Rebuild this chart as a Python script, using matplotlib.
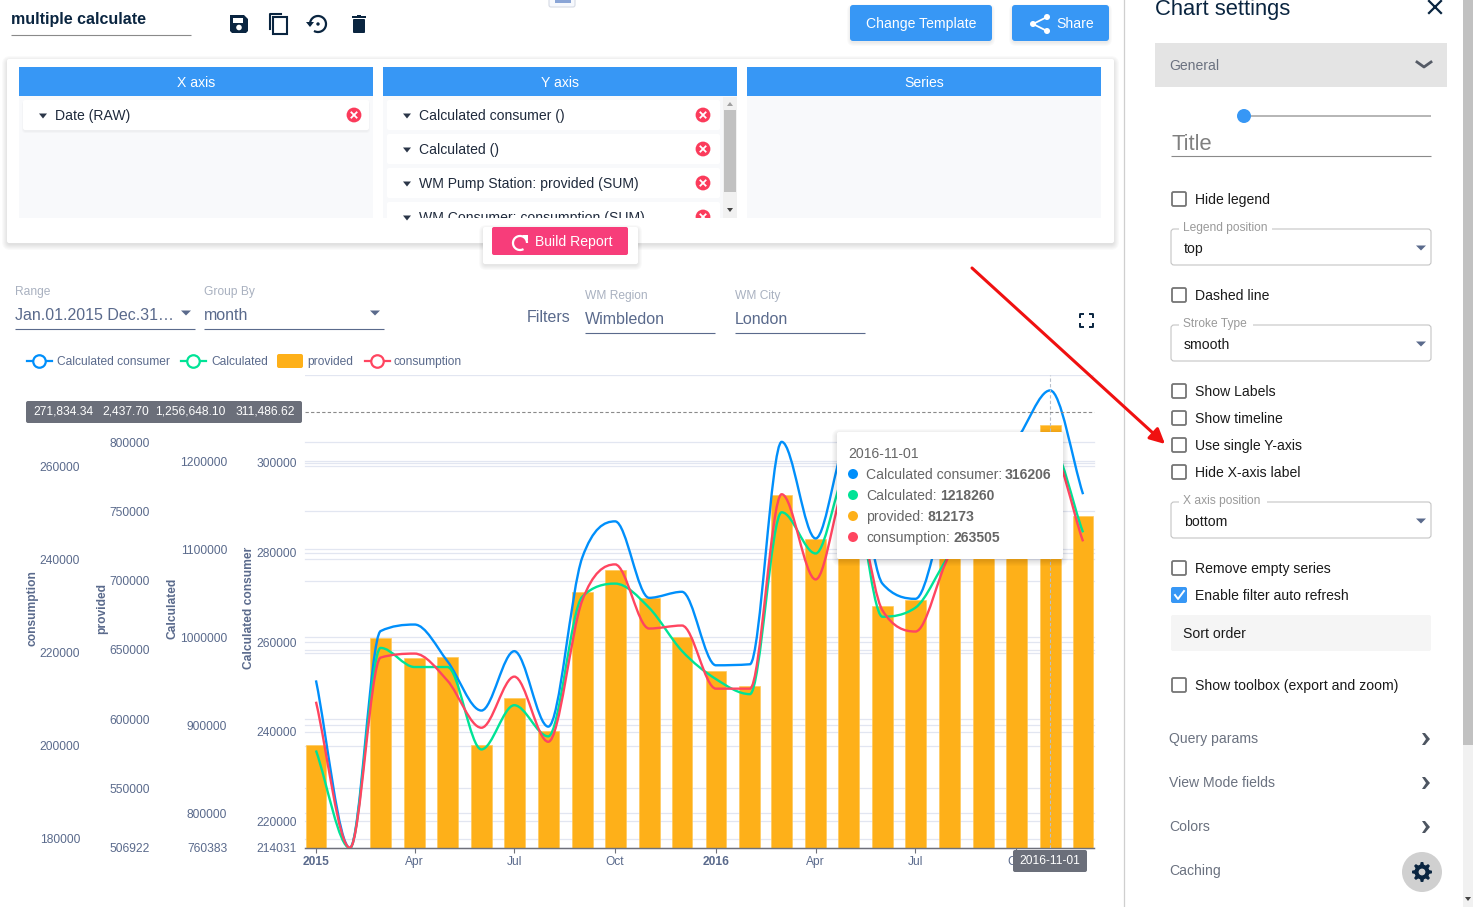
import matplotlib
matplotlib.use('Agg')
import matplotlib.pyplot as plt
import matplotlib.patches as mp
import matplotlib.dates as mdates
from matplotlib.path import Path
import numpy as np
import pandas as pd

plt.rcParams['font.family'] = ['Liberation Sans', 'DejaVu Sans']

dates = pd.date_range('2015-01-01', periods=24, freq='MS')

calculated_consumer = [251460, 214031, 262470, 263930, 255730, 244720, 257980, 241130,
                       278880, 286970, 269890, 271240, 254830, 255060, 304720, 283150,
                       305170, 273040, 269670, 291690, 298430, 305170, 316206, 293030]
calculated = [871220, 760383, 987660, 965970, 965970, 872360, 922590, 887200,
              1045880, 1060720, 1033330, 984240, 952270, 935150, 1141780, 1094970,
              1189730, 1023050, 1033330, 1092690, 1132650, 1166890, 1218260, 1118950]
provided = [581170, 506922, 658340, 644210, 644930, 581170, 615220, 591310,
            692030, 707250, 687690, 659430, 634790, 623920, 761600, 729710,
            779710, 681890, 686240, 728990, 743480, 757970, 812173, 746380]
consumption = [209460, 178100, 218925, 219786, 213980, 203872, 214840, 200860,
               231183, 238925, 225162, 225807, 212259, 212259, 253979, 235700,
               256989, 229033, 224517, 240861, 248387, 254839, 263505, 243871]

cc_ticks = [214031, 220000, 240000, 260000, 280000, 300000]
calc_ticks = [760383, 800000, 900000, 1000000, 1100000, 1200000]
prov_ticks = [506922, 550000, 600000, 650000, 700000, 750000, 800000]
cons_ticks = [180000, 200000, 220000, 240000, 260000]

BLUE = '#008ffb'
GREEN = '#00e396'
ORANGE = '#feb019'
RED = '#ff4560'
LABEL = '#5a6a8c'
NAVY = '#0a2540'
BTN = '#3797f5'
GRID = '#e2e6f1'


def smooth_line(ax, x, y, color):
    # monotone bezier through the monthly values, like the "smooth" stroke
    x = np.asarray(x, dtype=float)
    y = np.asarray(y, dtype=float)
    dx = np.diff(x)
    s = np.diff(y) / dx
    m = np.zeros(len(y))
    for i in range(1, len(y) - 1):
        if s[i - 1] * s[i] > 0:
            mid = (s[i - 1] + s[i]) / 2
            m[i] = np.sign(mid) * min(abs(mid), 2.5 * abs(s[i - 1]), 2.5 * abs(s[i]))
    m[0] = s[0]
    m[-1] = s[-1]
    verts = [(x[0], y[0])]
    codes = [Path.MOVETO]
    for i in range(len(dx)):
        verts.append((x[i] + dx[i] / 3, y[i] + m[i] * dx[i] / 3))
        verts.append((x[i + 1] - dx[i] / 3, y[i + 1] - m[i + 1] * dx[i] / 3))
        verts.append((x[i + 1], y[i + 1]))
        codes += [Path.CURVE4] * 3
    ax.add_patch(mp.PathPatch(Path(verts, codes), fc='none', ec=color, lw=1.7))


fig = plt.figure(figsize=(14.73, 9.07), dpi=100, facecolor='white')

# chart area is 305..1094 x 375..848 in pixels
pos = [305 / 1473, 1 - 848 / 907, 789 / 1473, 473 / 907]
ax_prov = fig.add_axes(pos, zorder=1)
ax_cons = ax_prov.twinx()
ax_calc = ax_prov.twinx()
ax_cc = ax_prov.twinx()

xnum = mdates.date2num(dates)
ax_prov.set_xlim(xnum[0] - 10, xnum[0] + 710)
ax_prov.set_ylim(506922, 848370)
ax_cons.set_ylim(178065, 279570)
ax_calc.set_ylim(760383, 1297700)
ax_cc.set_ylim(214031, 319650)

for a, ticks, pad, name, lab_x in [
        (ax_prov, prov_ticks, 111.6, 'provided', 101),
        (ax_cons, cons_ticks, 162, 'consumption', 31),
        (ax_calc, calc_ticks, 56, 'Calculated', 171),
        (ax_cc, cc_ticks, 5.8, 'Calculated consumer', 248)]:
    a.yaxis.tick_left()
    a.set_yticks(ticks)
    a.set_yticklabels([str(t) for t in ticks])
    a.tick_params(axis='y', length=0, pad=pad, labelsize=8.64, labelcolor=LABEL)
    a.set_ylabel(name, fontsize=8.64, fontweight='bold', color=LABEL)
    a.yaxis.set_label_position('left')
    a.yaxis.set_label_coords((lab_x + 7.5 - 305) / 789, 0.507)
    a.patch.set_visible(False)
    for sp in a.spines.values():
        sp.set_visible(False)
    # all grid lines sit under the bars so they go on the provided axes
    for t in ticks:
        ax_prov.plot([0, 1], [t, t], transform=a.get_yaxis_transform(), color=GRID,
                     lw=0.9, zorder=0, clip_on=False, scaley=False)
ax_prov.plot([0, 1], [1, 1], transform=ax_prov.transAxes, color=GRID, lw=0.9, zorder=0)

ax_prov.bar(xnum, provided, width=19, color=ORANGE, edgecolor='#ffc95e', linewidth=0.5, zorder=2)
smooth_line(ax_cc, xnum, calculated_consumer, BLUE)
smooth_line(ax_calc, xnum, calculated, GREEN)
smooth_line(ax_cons, xnum, consumption, RED)
ax_cc.set_zorder(2)
ax_calc.set_zorder(3)
ax_cons.set_zorder(4)

hover = xnum[22]
ax_cons.axvline(hover, color='#b8bfca', lw=0.8, ls=(0, (3, 2)), zorder=5)

tick_idx = [0, 3, 6, 9, 12, 15, 18, 21]
ax_prov.set_xticks(xnum[tick_idx])
ax_prov.set_xticklabels(['2015', 'Apr', 'Jul', 'Oct', '2016', 'Apr', 'Jul', 'Oct'])
ax_prov.tick_params(axis='x', length=3.5, width=0.8, color='#6e7079', labelsize=8.64,
                    labelcolor=LABEL, pad=2.2)
for i in [0, 4]:
    ax_prov.get_xticklabels()[i].set_fontweight('bold')
ax_prov.spines['bottom'].set_visible(True)
ax_prov.spines['bottom'].set_color('#6e7079')
ax_prov.spines['bottom'].set_linewidth(1)
ax_prov.spines['bottom'].set_zorder(6)

# everything else is page furniture, drawn in pixel coordinates
ui = fig.add_axes([0, 0, 1, 1], zorder=10)
ui.set_xlim(0, 1473)
ui.set_ylim(907, 0)
ui.axis('off')
ui.patch.set_visible(False)


def T(x, y, s, px=14, color='#222222', weight='normal', ha='left', **kw):
    return ui.text(x, y + 1, s, fontsize=px * 0.72, color=color, fontweight=weight, ha=ha,
                   va='center', **kw)


def box(x0, y0, x1, y1, fc, r=0, ec='none', lw=0, shadow=0, z=2):
    if shadow:
        for k in range(shadow, 0, -1):
            ui.add_patch(mp.FancyBboxPatch((x0 - k + 1, y0 - k + 3), x1 - x0 + 2 * k - 2, y1 - y0 + 2 * k - 2,
                                           boxstyle='round,pad=0,rounding_size=%g' % (r + k),
                                           fc='black', ec='none', alpha=0.018, zorder=z))
    if r:
        p = mp.FancyBboxPatch((x0, y0), x1 - x0, y1 - y0, boxstyle='round,pad=0,rounding_size=%g' % r,
                              fc=fc, ec=ec, lw=lw, zorder=z)
    else:
        p = mp.Rectangle((x0, y0), x1 - x0, y1 - y0, fc=fc, ec=ec, lw=lw, zorder=z)
    ui.add_patch(p)
    return p


def hline(x0, x1, y, color, lw=0.8, **kw):
    ui.plot([x0, x1], [y, y], color=color, lw=lw, solid_capstyle='butt', **kw)


def caret(x, y, w=5, color=LABEL):
    ui.add_patch(mp.Polygon([(x - w, y - 2.5), (x + w, y - 2.5), (x, y + 2.5)], fc=color, ec='none', zorder=4))


def chevron(x, y):
    ui.add_patch(mp.Polygon([(x - 4, y - 6), (x - 1, y - 6), (x + 4, y), (x - 1, y + 6), (x - 4, y + 6), (x, y)],
                            fc='#4d5561', ec='none', zorder=4))


def close_dot(x, y, clip=None):
    c = mp.Circle((x, y), 7.4, fc='#fb3b5b', ec='none', zorder=4)
    ui.add_patch(c)
    l = ui.plot([x - 2.6, x + 2.6, np.nan, x - 2.6, x + 2.6], [y - 2.6, y + 2.6, np.nan, y + 2.6, y - 2.6],
                color='white', lw=1.3, zorder=5)[0]
    if clip is not None:
        c.set_clip_path(clip)
        l.set_clip_path(clip)


# top bar
T(11, 18.5, 'multiple calculate', 16, NAVY, 'bold')
hline(11, 191, 35, '#8a8a8a')
ui.add_patch(mp.Polygon([(230, 15), (244, 15), (248, 19), (248, 31), (246, 33), (232, 33), (230, 31)],
                        fc=NAVY, ec='none', zorder=3))
box(233, 18, 243, 22.5, 'white', z=4)
ui.add_patch(mp.Circle((239, 27.5), 2.8, fc='white', ec='none', zorder=4))
ui.add_patch(mp.Rectangle((273, 17), 14, 17, fc='white', ec=NAVY, lw=1.5, zorder=4))
ui.plot([270, 270, 281], [29, 14, 14], color=NAVY, lw=1.5, zorder=4)
ui.add_patch(mp.Arc((318, 24), 16, 16, theta1=-190, theta2=120, color=NAVY, lw=1.6, zorder=4))
ui.add_patch(mp.Polygon([(306, 22), (314, 22), (310, 27)], fc=NAVY, ec='none', zorder=4))
ui.add_patch(mp.Circle((318, 24), 1.7, fc=NAVY, ec='none', zorder=4))
box(353, 19, 365, 33, NAVY, r=1, z=3)
box(352, 16, 366, 18, NAVY, z=3)
box(357, 14.5, 361, 17, NAVY, z=3)
box(549, -4, 575, 7, '#f7f9fd', r=2, ec='#d5dae4', lw=0.8)
box(555, -2, 571, 3, '#8aa5d6', z=3)

box(850, 5, 992, 41, BTN, r=3, shadow=4)
T(921, 23, 'Change Template', 14, 'white', ha='center', zorder=5)
box(1012, 5, 1109, 41, BTN, r=3, shadow=4)
T(1056, 23, 'Share', 14, 'white', zorder=5)
for px_, py_ in [(1047, 17), (1033, 24), (1047, 31)]:
    ui.add_patch(mp.Circle((px_, py_), 3, fc='white', ec='none', zorder=5))
ui.plot([1047, 1033, 1047], [17, 24, 31], color='white', lw=1.3, zorder=5)

# field panel
box(7, 59, 1114, 243, 'white', r=2, shadow=6)
for x0, x1, name in [(19, 373, 'X axis'), (383, 737, 'Y axis'), (747, 1101, 'Series')]:
    box(x0, 96, x1, 218, '#f8f9fb', z=3)
    box(x0, 67, x1, 96, BTN, z=3)
    T((x0 + x1) / 2, 82, name, 14, 'white', ha='center', zorder=5)

clip = mp.Rectangle((383, 96), 354, 122, transform=ui.transData)
box(23, 100, 369, 130, 'white', r=2, shadow=2, z=3)
caret(43, 116, 4, '#2b3648')
T(55, 115, 'Date (RAW)', 14, '#1f2a3c', zorder=5)
close_dot(354, 115)
for y0, name in [(100, 'Calculated consumer ()'), (134, 'Calculated ()'), (168, 'WM Pump Station: provided (SUM)'),
                 (202, 'WM Consumer: consumption (SUM)')]:
    b = box(387, y0, 720, y0 + 30, 'white', r=2, z=3)
    b.set_clip_path(clip)
    caret(407, y0 + 16, 4, '#2b3648')
    t = T(419, y0 + 15, name, 14, '#1f2a3c', zorder=5)
    t.set_clip_path(clip)
    t.set_clip_on(True)
    close_dot(703, y0 + 15, clip)
box(723, 97, 737, 218, '#f1f1f1', z=4)
box(724, 110, 736, 192, '#c1c1c1', z=5)
ui.add_patch(mp.Polygon([(727, 106), (733, 106), (730, 102)], fc='#a0a0a0', ec='none', zorder=6))
ui.add_patch(mp.Polygon([(727, 208), (733, 208), (730, 212)], fc='#444444', ec='none', zorder=6))

box(483, 227, 638, 264, 'white', r=2, shadow=5, z=6)
box(492, 227, 628, 255, '#f73d7a', r=2, z=7)
T(535, 241, 'Build Report', 14, 'white', zorder=8)
ui.add_patch(mp.Arc((520, 243), 14, 14, theta1=-300, theta2=0, color='white', lw=1.6, zorder=8))
ui.add_patch(mp.Polygon([(522, 235), (528, 235), (528, 241)], fc='white', ec='none', zorder=8))

# filters
T(15, 291, 'Range', 12, '#a9b1c0')
T(15, 314, 'Jan.01.2015 Dec.31…', 16, LABEL)
caret(186, 313)
hline(15, 195, 329, LABEL)
T(204, 291, 'Group By', 12, '#a9b1c0')
T(204, 314, 'month', 16, LABEL)
caret(375, 313)
hline(204, 384, 329, LABEL)
T(527, 317, 'Filters', 16, LABEL)
T(585, 295, 'WM Region', 12, '#a9b1c0')
T(585, 318, 'Wimbledon', 16, LABEL)
hline(585, 715, 333, LABEL)
T(735, 295, 'WM City', 12, '#a9b1c0')
T(735, 318, 'London', 16, LABEL)
hline(735, 865, 333, LABEL)
for sx, sy in [(-1, -1), (1, -1), (-1, 1), (1, 1)]:
    cx, cy = 1086 + sx * 6.5, 320 + sy * 6.5
    ui.plot([cx - sx * 4, cx, cx], [cy, cy, cy - sy * 4], color=NAVY, lw=1.4, solid_capstyle='butt')

# legend
for x0, color, name in [(27, BLUE, 'Calculated consumer'), (181, GREEN, 'Calculated'), (365, RED, 'consumption')]:
    ui.plot([x0, x0 + 25], [361, 361], color=color, lw=1.6)
    ui.plot([x0 + 12], [361], 'o', ms=9, mfc='white', mec=color, mew=1.6)
    T(x0 + 30 - (1 if name == 'consumption' else 0), 361, name, 12, LABEL)
box(277, 354, 303, 368, ORANGE, r=2)
T(307, 361, 'provided', 12, LABEL)

# crosshair
ui.plot([305, 1094], [412, 412], color='#8a8a8a', lw=0.8, ls=(0, (3, 2)))
box(26, 401, 302, 423, '#6b6f7a', r=2)
for x0, s in [(33, '271,834.34'), (102, '2,437.70'), (155, '1,256,648.10'), (236, '311,486.62')]:
    T(x0, 411, s, 12, 'white', zorder=5)
box(1013, 850, 1087, 872, '#6b6f7a', r=2, z=6)
T(1050, 860, '2016-11-01', 12, 'white', ha='center', zorder=7)

# tooltip
box(837, 432, 1063, 559, 'white', r=2, shadow=6, z=6)
T(848, 453, '2016-11-01', 14, '#666666', zorder=7)
for y0, color, name, val, vx in [
        (474, BLUE, 'Calculated consumer:', calculated_consumer[22], 1005),
        (495, GREEN, 'Calculated:', calculated[22], 940),
        (516, ORANGE, 'provided:', provided[22], 927),
        (537, RED, 'consumption:', consumption[22], 953)]:
    ui.add_patch(mp.Circle((853, y0), 5, fc=color, ec='none', zorder=7))
    T(866, y0, name, 14, '#666666', zorder=7)
    T(vx, y0, str(val), 14, '#666666', 'bold', zorder=7)

# settings drawer
ui.plot([1124, 1124], [0, 907], color='#cfcfcf', lw=0.9)
box(1463, 0, 1473, 907, '#f1f1f1')
box(1463, 0, 1473, 745, '#c1c1c1', z=3)
ui.add_patch(mp.Polygon([(1465, 897), (1471, 897), (1468, 901)], fc='#444444', ec='none', zorder=4))
T(1155, 8.5, 'Chart settings', 22, NAVY)
ui.plot([1429, 1441, np.nan, 1429, 1441], [1, 13, np.nan, 13, 1], color=NAVY, lw=1.6)
box(1155, 43, 1447, 87, '#e4e4e4')
T(1169, 65, 'General', 14, '#6b7280', zorder=5)
ui.plot([1417, 1424, 1431], [62, 67, 62], color='#555b66', lw=2, zorder=5)
hline(1244, 1431, 116, '#b5b5b5', lw=1.4)
ui.add_patch(mp.Circle((1244, 116), 7, fc=BTN, ec='none', zorder=4))
T(1171, 144, 'Title', 22, '#808080')
hline(1171, 1431, 156, '#8a8a8a')

checks = [(199, 'Hide legend'), (295, 'Dashed line'), (391, 'Show Labels'), (418, 'Show timeline'),
          (445, 'Use single Y-axis'), (472, 'Hide X-axis label'), (568, 'Remove empty series'),
          (685, 'Show toolbox (export and zoom)')]
for y0, name in checks:
    box(1172, y0 - 7, 1186, y0 + 7, 'white', r=1.5, ec='#757575', lw=1.3)
    T(1195, y0, name, 14, '#1a1a1a')
box(1171, 587, 1187, 603, BTN, r=2)
ui.plot([1175, 1178, 1184], [595, 599, 591], color='white', lw=1.4, zorder=5)
T(1195, 595, 'Enable filter auto refresh', 14, '#1a1a1a')

for y0, label, value, lw_ in [(229, 'Legend position', 'top', 85), (325, 'Stroke Type', 'smooth', 66),
                              (502, 'X axis position', 'bottom', 80)]:
    box(1171, y0, 1431, y0 + 36, 'white', r=3, ec='#c4c4c4', lw=0.8)
    box(1179, y0 - 3, 1179 + lw_ + 8, y0 + 3, 'white', z=3)
    T(1183, y0 - 2, label, 12, '#9a9a9a', zorder=5)
    T(1184, y0 + 19, value, 14, '#1a1a1a', zorder=5)
    caret(1421, y0 + 19)

box(1171, 615, 1431, 651, '#f5f5f5', r=2)
T(1183, 633, 'Sort order', 14, '#1a1a1a', zorder=5)
for y0, name in [(738, 'Query params'), (782, 'View Mode fields'), (826, 'Colors'), (870, 'Caching')]:
    T(1169, y0, name, 14, '#6b7280')
for y0 in [738, 782, 826]:
    chevron(1426, y0 + 1)
ui.add_patch(mp.Circle((1422, 872), 20, fc='#d0d0d0', ec='none', zorder=6))
ang = np.linspace(0, 2 * np.pi, 48, endpoint=False)
rad = np.where((ang * 8 / (2 * np.pi) + 0.25) % 1 < 0.5, 10, 7.5)
ui.add_patch(mp.Polygon(np.c_[1422 + rad * np.cos(ang), 872 + rad * np.sin(ang)], fc=NAVY, ec='none', zorder=7))
ui.add_patch(mp.Circle((1422, 872), 3.4, fc='#d0d0d0', ec='none', zorder=8))

ui.annotate('', xy=(1165, 444), xytext=(972, 268),
            arrowprops=dict(arrowstyle='-|>,head_length=0.9,head_width=0.45', color='#f01010', lw=2.2, shrinkA=0, shrinkB=0))

fig.savefig('out.png', dpi=100)
